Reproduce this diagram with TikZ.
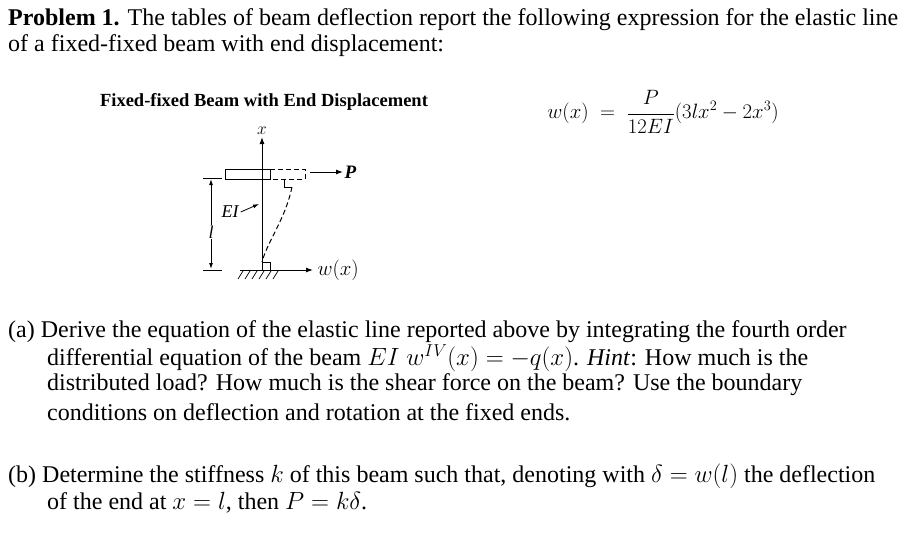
\documentclass[tikz,border=0pt]{standalone}
\usepackage{fontspec}
\setmainfont{Liberation Serif}
\usetikzlibrary{arrows.meta,patterns}
\begin{document}
\begin{tikzpicture}[x=1pt,y=-1pt,
  txt/.style={anchor=west,inner sep=0,font=\fontsize{24}{28}\selectfont},
  lbl/.style={inner sep=0,font=\fontsize{15}{18}\selectfont},
  ln/.style={line width=1pt},
  dsh/.style={line width=1pt,dash pattern=on 5pt off 3pt},
  arr/.style={line width=1pt,-{Latex[length=7pt,width=5pt]}}]
\useasboundingbox (0,0) rectangle (919,533);
\node[txt] (t1) at (8,20) {\textbf{Problem 1.} The tables of beam deflection report the following expression for the elastic line};
\node[txt] (t2) at (8,46) {of a fixed-fixed beam with end displacement:};
\node[inner sep=0,font=\fontsize{18.5}{20}\selectfont\bfseries] (cap) at (264,102) {Fixed-fixed Beam with End Displacement};
\node[inner sep=0,font=\fontsize{22}{26}\selectfont] (eq) at (663,112) {$w(x)\;=\;\displaystyle\frac{P}{12EI}(3lx^2-2x^3)$};
% figure
\coordinate (top) at (262,178);
\coordinate (bot) at (262,270);
\draw[ln] (bot) -- (top);
\draw[arr] (top) -- (262,137) node[lbl,above=2pt,font=\fontsize{16}{18}\itshape] (xl) {$x$};
\draw[ln] (225,169) rectangle (270,179);
\draw[dsh] (270,169) -- (305,169) -- (305,179) -- (270,179);
\draw[ln] (284,179) -- (284,187) -- (292,187);
\draw[dsh] (292,187) .. controls (285,220) and (268,240) .. (262,262);
\draw[arr] (310,172) -- (343,172) node[right=1pt,inner sep=0,font=\fontsize{19}{20}\selectfont\bfseries\itshape] (P) {P};
\draw[ln] (262,262) -- (270,262) -- (270,270);
\draw[ln] (240,270) -- (280,270);
\foreach \i in {0,...,5} \draw[line width=0.7pt] (243+\i*7,271) -- (238+\i*7,279);
\draw[arr] (280,270) -- (313,270) node[right=4pt,inner sep=0,font=\fontsize{22}{24}\selectfont] (w) {$w(x)$};
\draw[ln] (203,178) -- (222,178);
\draw[ln] (203,270) -- (222,270);
\draw[line width=1pt,{Latex[length=6pt,width=4pt]}-{Latex[length=6pt,width=4pt]}] (211,179) -- (211,269);
\node[fill=white,inner sep=1pt,font=\fontsize{18}{20}\selectfont\itshape] (l) at (211,232) {l};
\node[inner sep=0,font=\fontsize{18}{20}\selectfont\itshape] (EI) at (230,212) {EI};
\draw[line width=0.8pt,-{Latex[length=6pt,width=4pt]}] (EI.east) ++(2,0) -- (259,204);
% part a
\node[txt] (a1) at (8,332) {(a) Derive the equation of the elastic line reported above by integrating the fourth order};
\node[txt] (a2) at (47,358) {differential equation of the beam $EI\;w^{IV}(x)=-q(x)$. \textit{Hint}: How much is the};
\node[txt] (a3) at (47,385) {distributed load? How much is the shear force on the beam? Use the boundary};
\node[txt] (a4) at (47,412) {conditions on deflection and rotation at the fixed ends.};
\node[txt] (b1) at (8,476) {(b) Determine the stiffness $k$ of this beam such that, denoting with $\delta=w(l)$ the deflection};
\node[txt] (b2) at (47,503) {of the end at $x=l$, then $P=k\delta$.};
\end{tikzpicture}
\end{document}
